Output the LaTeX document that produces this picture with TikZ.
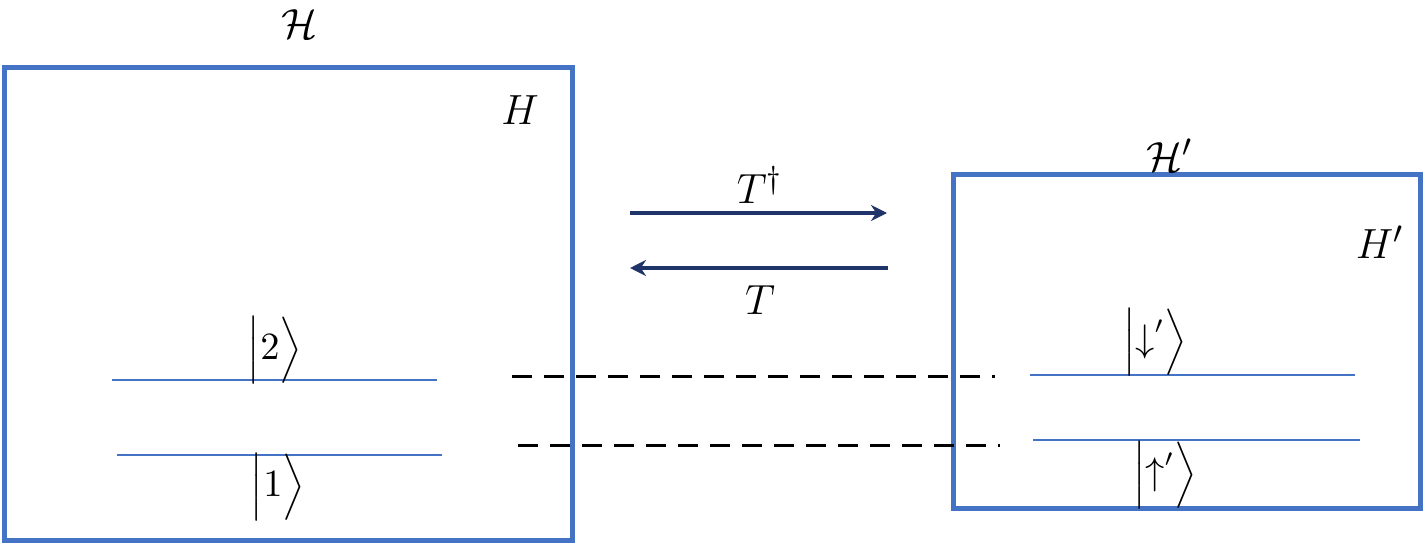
\documentclass[tikz,border=0pt]{standalone}
\usepackage{amsmath,amssymb}
\usepackage{tikz}
\usetikzlibrary{arrows.meta,positioning}
\definecolor{spaceblue}{HTML}{4472C4}
\definecolor{mapnavy}{HTML}{1F3468}

\begin{document}
\begin{tikzpicture}[x=1cm, y=1cm, >=Stealth]
  \useasboundingbox (0,0) rectangle (14.24,-5.43);
  \tikzset{
    spacebox/.style={draw=spaceblue, line width=0.05cm, minimum width=#1, inner sep=0pt},
    level/.style={draw=spaceblue, line width=0.6pt},
    mapping/.style={->, draw=mapnavy, line width=0.04cm, >={Stealth[length=0.16cm, width=0.16cm]}},
    match/.style={dashed, line width=0.03cm, dash pattern=on 0.2cm off 0.12cm},
    lbl/.style={font=\fontsize{13}{15}\selectfont, inner sep=0pt},
    ket/.style={font=\fontsize{10.5}{12}\selectfont, inner sep=0pt}
  }

  % Hilbert spaces
  \node[spacebox=5.67cm, minimum height=4.72cm] (hleft) at (2.885, -3.04) {};
  \node[spacebox=4.67cm, minimum height=3.33cm] (hright) at (11.865, -3.415) {};

  % Space and Hamiltonian labels
  \node[lbl] (calh) at (3.00, -0.24) {$\mathcal{H}$};
  \node[lbl] (ham) at (5.20, -1.10) {$H$};
  \node[lbl] (calhp) at (11.70, -1.55) {$\mathcal{H}'$};
  \node[lbl] (hamp) at (13.80, -2.42) {$H'$};

  % Transformation arrows
  \coordinate (a0) at (6.30, -2.13);
  \coordinate (a1) at (8.87, -2.13);
  \coordinate (b0) at (8.88, -2.68);
  \coordinate (b1) at (6.30, -2.68);
  \draw[mapping] (a0) -- (a1);
  \draw[mapping] (b0) -- (b1);
  \node[lbl] (tdag) at (7.60, -1.85) {$T^{\dagger}$};
  \node[lbl] (tmap) at (7.60, -3.00) {$T$};

  % Energy levels
  \coordinate (l2a) at (1.12, -3.80);
  \coordinate (l2b) at (4.37, -3.80);
  \coordinate (l1a) at (1.17, -4.55);
  \coordinate (l1b) at (4.42, -4.55);
  \coordinate (rda) at (10.30, -3.75);
  \coordinate (rdb) at (13.55, -3.75);
  \coordinate (rua) at (10.33, -4.40);
  \coordinate (rub) at (13.60, -4.40);
  \draw[level] (l2a) -- (l2b);
  \draw[level] (l1a) -- (l1b);
  \draw[level] (rda) -- (rdb);
  \draw[level] (rua) -- (rub);

  \node[ket] (k2) at (2.75, -3.50) {$\Big|2\Big\rangle$};
  \node[ket] (k1) at (2.78, -4.87) {$\Big|1\Big\rangle$};
  \node[ket] (kdn) at (11.55, -3.42) {$\Big|{\downarrow}'\Big\rangle$};
  \node[ket] (kup) at (11.65, -4.75) {$\Big|{\uparrow}'\Big\rangle$};

  % Matching levels
  \coordinate (m2a) at (5.12, -3.76);
  \coordinate (m2b) at (9.95, -3.76);
  \coordinate (m1a) at (5.18, -4.45);
  \coordinate (m1b) at (10.00, -4.45);
  \draw[match] (m2a) -- (m2b);
  \draw[match] (m1a) -- (m1b);
\end{tikzpicture}
\end{document}
